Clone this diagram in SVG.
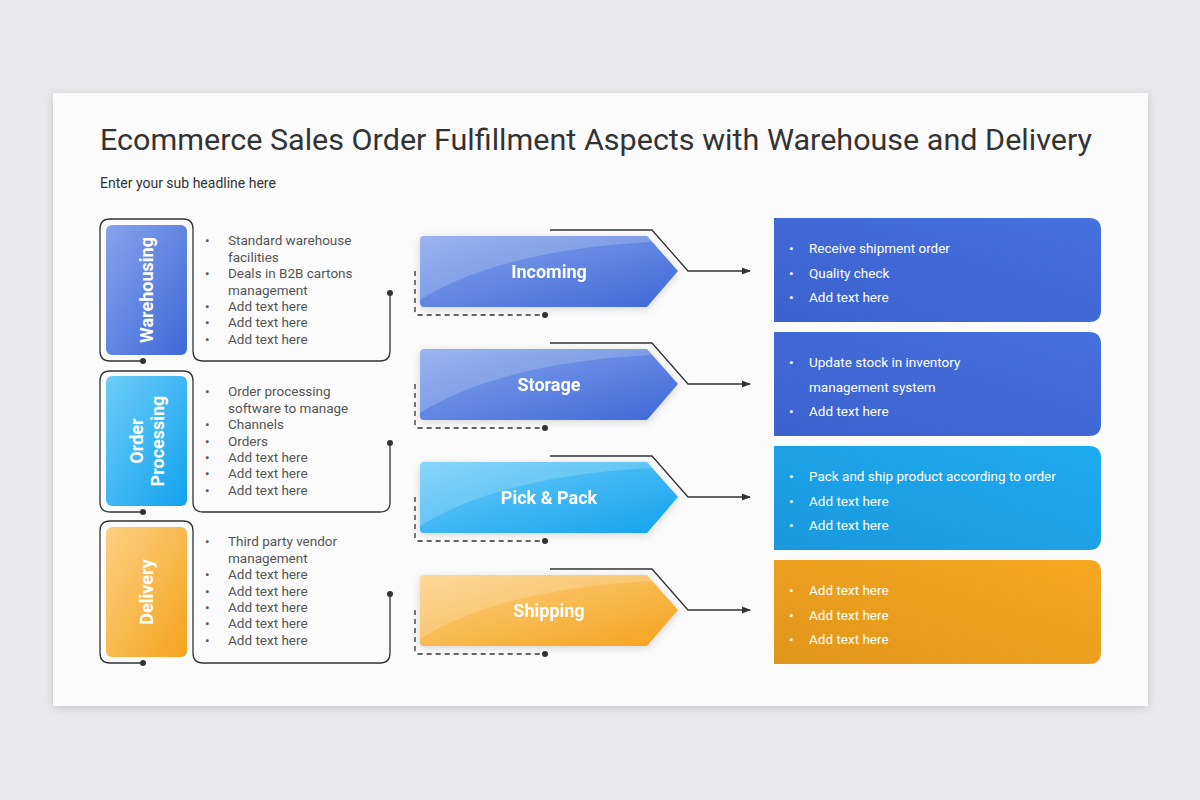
<svg xmlns="http://www.w3.org/2000/svg" width="1200" height="800" viewBox="0 0 1200 800">
<defs>
<filter id="sh" x="-10%" y="-10%" width="120%" height="130%"><feDropShadow dx="0" dy="2" stdDeviation="4" flood-color="#000" flood-opacity="0.15"/></filter>
<linearGradient id="gB" x1="0" y1="0" x2="1" y2="1"><stop offset="0" stop-color="#86a3ec"/><stop offset="1" stop-color="#3d68d8"/></linearGradient>
<linearGradient id="gC" x1="0" y1="0" x2="1" y2="1"><stop offset="0" stop-color="#6dccf9"/><stop offset="1" stop-color="#12a2ee"/></linearGradient>
<linearGradient id="gO" x1="0" y1="0" x2="1" y2="1"><stop offset="0" stop-color="#fcd083"/><stop offset="1" stop-color="#f5a31c"/></linearGradient>
<linearGradient id="rB" x1="0" y1="1" x2="1" y2="0"><stop offset="0" stop-color="#3a62cf"/><stop offset="1" stop-color="#4670de"/></linearGradient>
<linearGradient id="rC" x1="0" y1="1" x2="1" y2="0"><stop offset="0" stop-color="#1a98de"/><stop offset="1" stop-color="#1eaaf0"/></linearGradient>
<linearGradient id="rO" x1="0" y1="1" x2="1" y2="0"><stop offset="0" stop-color="#e0961a"/><stop offset="1" stop-color="#f6a821"/></linearGradient>
<marker id="ar" viewBox="0 0 10 10" refX="9" refY="5" markerWidth="7" markerHeight="7" orient="auto"><path d="M0,1 L10,5 L0,9z" fill="#333"/></marker>
</defs>
<style>
.t{font-family:Roboto,"Liberation Sans",sans-serif}
.bl{font-family:Roboto,"Liberation Sans",sans-serif;font-size:13.5px;fill:#555}
.wt{font-family:Roboto,"Liberation Sans",sans-serif;font-size:13.5px;fill:#fff}
.lab{font-family:Roboto,"Liberation Sans",sans-serif;font-size:18px;font-weight:bold;fill:#fff;text-anchor:middle}
.ln{fill:none;stroke:#333;stroke-width:1.3}
.dl{fill:none;stroke:#333;stroke-width:1.3;stroke-dasharray:5 4}
.hl{fill:#fff;opacity:0.18}
</style>
<rect width="1200" height="800" fill="#e9e8ea"/>
<rect x="53" y="93" width="1095" height="613" fill="#fbfbfb" filter="url(#sh)"/>
<text class="t" x="100" y="150" font-size="30" fill="#333" textLength="992" lengthAdjust="spacingAndGlyphs">Ecommerce Sales Order Fulfillment Aspects with Warehouse and Delivery</text>
<text class="t" x="100" y="188" font-size="14" fill="#333">Enter your sub headline here</text>

<g id="connectors">
<path class="ln" d="M143,361 H110 Q100,361 100,351 V229 Q100,219 110,219 H183 Q193,219 193,229 V351 Q193,361 203,361 H380 Q390,361 390,351 V293"/>
<path class="ln" d="M143,512 H110 Q100,512 100,502 V381 Q100,371 110,371 H183 Q193,371 193,381 V502 Q193,512 203,512 H380 Q390,512 390,502 V443"/>
<path class="ln" d="M143,663 H110 Q100,663 100,653 V531 Q100,521 110,521 H183 Q193,521 193,531 V653 Q193,663 203,663 H380 Q390,663 390,653 V594"/>
<g fill="#333"><circle cx="143" cy="361" r="3"/><circle cx="390" cy="293" r="3"/><circle cx="143" cy="512" r="3"/><circle cx="390" cy="443" r="3"/><circle cx="143" cy="663" r="3"/><circle cx="390" cy="594" r="3"/>
<circle cx="545" cy="315" r="3"/><circle cx="545" cy="428" r="3"/><circle cx="545" cy="541" r="3"/><circle cx="545" cy="654" r="3"/></g>
<path class="dl" d="M415,271 V311 Q415,315 419,315 H545"/>
<path class="dl" d="M415,384 V424 Q415,428 419,428 H545"/>
<path class="dl" d="M415,497 V537 Q415,541 419,541 H545"/>
<path class="dl" d="M415,610 V650 Q415,654 419,654 H545"/>
<path class="ln" d="M550,230 H652 L688,271 H750" marker-end="url(#ar)"/>
<path class="ln" d="M550,343 H652 L688,384 H750" marker-end="url(#ar)"/>
<path class="ln" d="M550,456 H652 L688,497 H750" marker-end="url(#ar)"/>
<path class="ln" d="M550,569 H652 L688,610 H750" marker-end="url(#ar)"/>
</g>

<g id="warehousing"><rect x="106" y="225" width="81" height="130" rx="6" fill="url(#gB)"/><text class="lab" font-size="17" transform="translate(153,290) rotate(-90)">Warehousing</text></g>
<g id="order-processing"><rect x="106" y="376" width="81" height="130" rx="6" fill="url(#gC)"/><text class="lab" font-size="17" transform="translate(143,441) rotate(-90)"><tspan x="0" y="0">Order</tspan><tspan x="0" y="21">Processing</tspan></text></g>
<g id="delivery"><rect x="106" y="527" width="81" height="130" rx="6" fill="url(#gO)"/><text class="lab" font-size="17" transform="translate(153,592) rotate(-90)">Delivery</text></g>

<g id="bullets-1" class="bl"><text x="205" y="245">•</text><text x="228" y="245">Standard warehouse</text><text x="228" y="262">facilities</text><text x="205" y="278">•</text><text x="228" y="278">Deals in B2B cartons</text><text x="228" y="295">management</text><text x="205" y="311">•</text><text x="228" y="311">Add text here</text><text x="205" y="327">•</text><text x="228" y="327">Add text here</text><text x="205" y="344">•</text><text x="228" y="344">Add text here</text></g>
<g id="bullets-2" class="bl"><text x="205" y="396">•</text><text x="228" y="396">Order processing</text><text x="228" y="413">software to manage</text><text x="205" y="429">•</text><text x="228" y="429">Channels</text><text x="205" y="446">•</text><text x="228" y="446">Orders</text><text x="205" y="462">•</text><text x="228" y="462">Add text here</text><text x="205" y="478">•</text><text x="228" y="478">Add text here</text><text x="205" y="495">•</text><text x="228" y="495">Add text here</text></g>
<g id="bullets-3" class="bl"><text x="205" y="546">•</text><text x="228" y="546">Third party vendor</text><text x="228" y="563">management</text><text x="205" y="579">•</text><text x="228" y="579">Add text here</text><text x="205" y="596">•</text><text x="228" y="596">Add text here</text><text x="205" y="612">•</text><text x="228" y="612">Add text here</text><text x="205" y="628">•</text><text x="228" y="628">Add text here</text><text x="205" y="645">•</text><text x="228" y="645">Add text here</text></g>

<g id="incoming" filter="url(#sh)"><path d="M424,236 H647 L678,271 L647,307 H424 Q420,307 420,303 V240 Q420,236 424,236z" fill="url(#gB)"/><path class="hl" d="M424,236 H647 L652,242 Q500,250 420,300 V240 Q420,236 424,236z"/><text class="lab" x="549" y="278">Incoming</text></g>
<g id="storage" filter="url(#sh)"><path d="M424,349 H647 L678,384 L647,420 H424 Q420,420 420,416 V353 Q420,349 424,349z" fill="url(#gB)"/><path class="hl" d="M424,349 H647 L652,355 Q500,363 420,413 V353 Q420,349 424,349z"/><text class="lab" x="549" y="391">Storage</text></g>
<g id="pick-pack" filter="url(#sh)"><path d="M424,462 H647 L678,497 L647,533 H424 Q420,533 420,529 V466 Q420,462 424,462z" fill="url(#gC)"/><path class="hl" d="M424,462 H647 L652,468 Q500,476 420,526 V466 Q420,462 424,462z"/><text class="lab" x="549" y="504">Pick &amp; Pack</text></g>
<g id="shipping" filter="url(#sh)"><path d="M424,575 H647 L678,610 L647,646 H424 Q420,646 420,642 V579 Q420,575 424,575z" fill="url(#gO)"/><path class="hl" d="M424,575 H647 L652,581 Q500,589 420,639 V579 Q420,575 424,575z"/><text class="lab" x="549" y="617">Shipping</text></g>

<g id="box-incoming"><path d="M774,218 H1089 Q1101,218 1101,230 V310 Q1101,322 1089,322 H774z" fill="url(#rB)"/>
<text class="wt" x="789" y="253">•</text><text class="wt" x="809" y="253">Receive shipment order</text><text class="wt" x="789" y="278">•</text><text class="wt" x="809" y="278">Quality check</text><text class="wt" x="789" y="302">•</text><text class="wt" x="809" y="302">Add text here</text></g>
<g id="box-storage"><path d="M774,332 H1089 Q1101,332 1101,344 V424 Q1101,436 1089,436 H774z" fill="url(#rB)"/>
<text class="wt" x="789" y="367">•</text><text class="wt" x="809" y="367">Update stock in inventory</text><text class="wt" x="809" y="392">management system</text><text class="wt" x="789" y="416">•</text><text class="wt" x="809" y="416">Add text here</text></g>
<g id="box-pick"><path d="M774,446 H1089 Q1101,446 1101,458 V538 Q1101,550 1089,550 H774z" fill="url(#rC)"/>
<text class="wt" x="789" y="481">•</text><text class="wt" x="809" y="481">Pack and ship product according to order</text><text class="wt" x="789" y="506">•</text><text class="wt" x="809" y="506">Add text here</text><text class="wt" x="789" y="530">•</text><text class="wt" x="809" y="530">Add text here</text></g>
<g id="box-shipping"><path d="M774,560 H1089 Q1101,560 1101,572 V652 Q1101,664 1089,664 H774z" fill="url(#rO)"/>
<text class="wt" x="789" y="595">•</text><text class="wt" x="809" y="595">Add text here</text><text class="wt" x="789" y="620">•</text><text class="wt" x="809" y="620">Add text here</text><text class="wt" x="789" y="644">•</text><text class="wt" x="809" y="644">Add text here</text></g>
</svg>
